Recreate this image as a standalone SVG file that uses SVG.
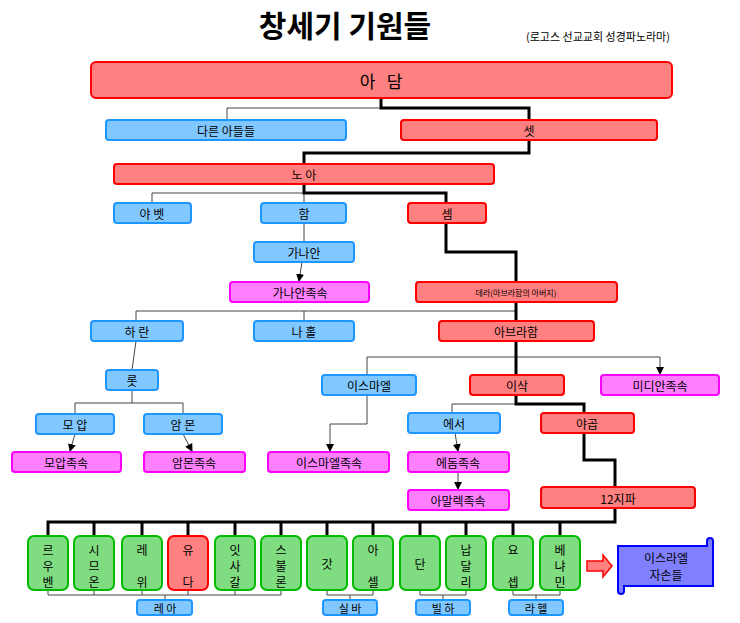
<svg xmlns="http://www.w3.org/2000/svg" width="740" height="623" viewBox="0 0 740 623">
<style>
text{font-family:"Noto Sans CJK KR","Noto Sans",sans-serif;font-size:12px;text-anchor:middle;dominant-baseline:central;fill:#000}
.r{fill:#FF8080;stroke:#FF0000;stroke-width:2}
.b{fill:#80C8FF;stroke:#1E96FF;stroke-width:2}
.p{fill:#FF80FF;stroke:#FF00FF;stroke-width:2}
.g{fill:#80DC80;stroke:#00BB00;stroke-width:2}
.t{fill:none;stroke:#444;stroke-width:1}
.k{fill:none;stroke:#000;stroke-width:3}
</style>
<defs><marker id="a" markerWidth="8" markerHeight="8" refX="7" refY="4" orient="auto" markerUnits="userSpaceOnUse"><path d="M0,0L8,4L0,8z" fill="#000"/></marker></defs>
<rect width="740" height="623" fill="#fff"/>
<text x="345" y="24" style="font-size:30px;font-weight:bold">창세기 기원들</text>
<text x="598" y="36" style="font-size:11px">(로고스 선교교회 성경파노라마)</text>
<g id="connectors">
<path class="t" d="M381,108H227V120"/>
<path class="k" d="M381,98V108H529V120"/>
<path class="k" d="M529,140V153H304V164"/>
<path class="t" d="M304,193H152V203M304,193V203M304,223V242"/>
<path class="k" d="M304,184V193H446V203"/>
<path class="k" d="M446,223V252H516V282"/>
<path class="t" d="M302,262L299,281" marker-end="url(#a)"/>
<path class="t" d="M516,311H136V321M304,311V321"/>
<path class="k" d="M516,302V321"/>
<path class="t" d="M136,341L132,370M132,390V403H75V414M132,403H183V414"/>
<path class="t" d="M75,434L70,451" marker-end="url(#a)"/>
<path class="t" d="M183,434L192,451" marker-end="url(#a)"/>
<path class="t" d="M367,375V357H660V374" marker-end="url(#a)"/>
<path class="k" d="M516,341V375"/>
<path class="t" d="M367,395V424H330V451" marker-end="url(#a)"/>
<path class="t" d="M516,404H452V413"/>
<path class="k" d="M516,395V404H584V413"/>
<path class="t" d="M455,433L458,451" marker-end="url(#a)"/>
<path class="t" d="M458,472V489" marker-end="url(#a)"/>
<path class="k" d="M584,433V460H615V487"/>
<path class="k" d="M615,508V522H48V536M94,522V536M142,522V536M188,522V536M235,522V536M281,522V536M327,522V536M373,522V536M420,522V536M466,522V536M513,522V536M560,522V536"/>
<path class="t" d="M48,590V595H281V590M94,590V595M142,590V595M188,590V595M235,590V595M165,595V600"/>
<path class="t" d="M327,590V595H373V590M350,595V600"/>
<path class="t" d="M420,590V595H466V590M443,595V600"/>
<path class="t" d="M513,590V595H560V590M536,595V600"/>
</g>
<g id="adam"><rect class="r" x="91" y="62" width="581" height="36" rx="5"/><text x="381" y="80" style="font-size:17px;white-space:pre">아   담</text></g>
<g id="others"><rect class="b" x="106" y="120" width="240" height="20" rx="3"/><text x="226" y="130">다른 아들들</text></g>
<g id="seth"><rect class="r" x="401" y="120" width="256" height="20" rx="3"/><text x="529" y="130">셋</text></g>
<g id="noah"><rect class="r" x="114" y="164" width="380" height="20" rx="3"/><text x="304" y="174">노 아</text></g>
<g id="japheth"><rect class="b" x="114" y="203" width="77" height="20" rx="3"/><text x="152" y="213">야 벳</text></g>
<g id="ham"><rect class="b" x="261" y="203" width="85" height="20" rx="3"/><text x="304" y="213">함</text></g>
<g id="shem"><rect class="r" x="408" y="203" width="78" height="20" rx="3"/><text x="447" y="213">셈</text></g>
<g id="canaan"><rect class="b" x="254" y="242" width="100" height="20" rx="3"/><text x="304" y="252">가나안</text></g>
<g id="canaanites"><rect class="p" x="230" y="282" width="139" height="20" rx="3"/><text x="300" y="292">가나안족속</text></g>
<g id="terah"><rect class="r" x="416" y="282" width="201" height="20" rx="3"/><text x="516" y="292" style="font-size:8px">데라(아브라함의 아버지)</text></g>
<g id="haran"><rect class="b" x="91" y="321" width="92" height="20" rx="3"/><text x="137" y="331">하 란</text></g>
<g id="nahor"><rect class="b" x="254" y="321" width="100" height="20" rx="3"/><text x="304" y="331">나 홀</text></g>
<g id="abraham"><rect class="r" x="439" y="321" width="155" height="20" rx="3"/><text x="516" y="331">아브라함</text></g>
<g id="lot"><rect class="b" x="106" y="370" width="52" height="20" rx="3"/><text x="132" y="380">롯</text></g>
<g id="moab"><rect class="b" x="36" y="414" width="78" height="20" rx="3"/><text x="75" y="424">모 압</text></g>
<g id="ammon"><rect class="b" x="144" y="414" width="78" height="20" rx="3"/><text x="183" y="424">암 몬</text></g>
<g id="moabites"><rect class="p" x="12" y="452" width="109" height="20" rx="3"/><text x="66" y="462">모압족속</text></g>
<g id="ammonites"><rect class="p" x="144" y="452" width="101" height="20" rx="3"/><text x="194" y="462">암몬족속</text></g>
<g id="ishmael"><rect class="b" x="322" y="375" width="94" height="20" rx="3"/><text x="369" y="385">이스마엘</text></g>
<g id="isaac"><rect class="r" x="470" y="375" width="94" height="20" rx="3"/><text x="517" y="385">이삭</text></g>
<g id="midian"><rect class="p" x="601" y="375" width="118" height="20" rx="3"/><text x="660" y="385">미디안족속</text></g>
<g id="ishmaelites"><rect class="p" x="268" y="452" width="121" height="20" rx="3"/><text x="329" y="462">이스마엘족속</text></g>
<g id="esau"><rect class="b" x="408" y="413" width="92" height="20" rx="3"/><text x="454" y="423">에서</text></g>
<g id="jacob"><rect class="r" x="541" y="413" width="93" height="20" rx="3"/><text x="587" y="423">야곱</text></g>
<g id="edom"><rect class="p" x="408" y="452" width="101" height="20" rx="3"/><text x="458" y="462">에돔족속</text></g>
<g id="amalek"><rect class="p" x="408" y="490" width="101" height="20" rx="3"/><text x="458" y="500">아말렉족속</text></g>
<g id="tribes12"><rect class="r" x="541" y="487" width="154" height="21" rx="3"/><text x="618" y="498">12지파</text></g>
<g id="t1"><rect class="g" x="28" y="536" width="40" height="54" rx="6"/><text x="48" y="549">르</text><text x="48" y="565">우</text><text x="48" y="581">벤</text></g>
<g id="t2"><rect class="g" x="74" y="536" width="40" height="54" rx="6"/><text x="94" y="549">시</text><text x="94" y="565">므</text><text x="94" y="581">온</text></g>
<g id="t3"><rect class="g" x="122" y="536" width="40" height="54" rx="6"/><text x="142" y="549">레</text><text x="142" y="581">위</text></g>
<g id="t4"><rect class="r" x="168" y="536" width="40" height="54" rx="6"/><text x="188" y="549">유</text><text x="188" y="581">다</text></g>
<g id="t5"><rect class="g" x="215" y="536" width="40" height="54" rx="6"/><text x="235" y="549">잇</text><text x="235" y="565">사</text><text x="235" y="581">갈</text></g>
<g id="t6"><rect class="g" x="261" y="536" width="40" height="54" rx="6"/><text x="281" y="549">스</text><text x="281" y="565">불</text><text x="281" y="581">론</text></g>
<g id="t7"><rect class="g" x="307" y="536" width="40" height="54" rx="6"/><text x="327" y="563">갓</text></g>
<g id="t8"><rect class="g" x="353" y="536" width="40" height="54" rx="6"/><text x="373" y="549">아</text><text x="373" y="581">셀</text></g>
<g id="t9"><rect class="g" x="400" y="536" width="40" height="54" rx="6"/><text x="420" y="563">단</text></g>
<g id="t10"><rect class="g" x="446" y="536" width="40" height="54" rx="6"/><text x="466" y="549">납</text><text x="466" y="565">달</text><text x="466" y="581">리</text></g>
<g id="t11"><rect class="g" x="493" y="536" width="40" height="54" rx="6"/><text x="513" y="549">요</text><text x="513" y="581">셉</text></g>
<g id="t12"><rect class="g" x="540" y="536" width="40" height="54" rx="6"/><text x="560" y="549">베</text><text x="560" y="565">냐</text><text x="560" y="581">민</text></g>
<g id="leah"><rect class="b" x="137" y="600" width="55" height="15" rx="3"/><text x="165" y="607.500" style="font-size:11px">레 아</text></g>
<g id="zilpah"><rect class="b" x="323" y="600" width="54" height="15" rx="3"/><text x="350" y="607.500" style="font-size:11px">실 바</text></g>
<g id="bilhah"><rect class="b" x="416" y="600" width="54" height="15" rx="3"/><text x="443" y="607.500" style="font-size:11px">빌 하</text></g>
<g id="rachel"><rect class="b" x="509" y="600" width="54" height="15" rx="3"/><text x="536" y="607.500" style="font-size:11px">라 헬</text></g>
<g id="bigarrow"><path d="M587,561H603V555L612,566L603,577V571H587Z" fill="#FF8080" stroke="#FF0000" stroke-width="1.5"/></g>
<g id="israel"><path d="M619,546H707V541a3,3 0 0 1 6,0V586H624V591a3,3 0 0 1 -6,0V546Z" fill="#8080FF" stroke="#0000FF" stroke-width="2"/><text x="666" y="557">이스라엘</text><text x="666" y="574">자손들</text></g>
</svg>
